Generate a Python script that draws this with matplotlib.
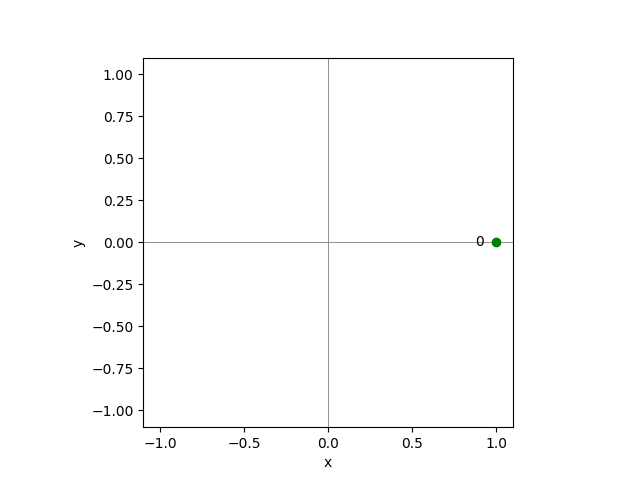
import numpy as np
import matplotlib
matplotlib.use("Agg")
import matplotlib.pyplot as plt

# points on the unit circle
xs = [1.0]
ys = [0.0]
labels = ["0"]

fig, ax = plt.subplots(figsize=(6.4, 4.8), dpi=100)
ax.axhline(0, color="gray", linewidth=0.6)
ax.axvline(0, color="gray", linewidth=0.6)
ax.scatter(xs, ys, color="green", zorder=3)
for x, y, lab in zip(xs, ys, labels):
    ax.text(x - 0.1, y, lab, ha="center", va="center")
ax.set_xlim(-1.1, 1.1)
ax.set_ylim(-1.1, 1.1)
ax.set_aspect("equal")
ax.set_xlabel("x")
ax.set_ylabel("y")
fig.savefig("out.png")
